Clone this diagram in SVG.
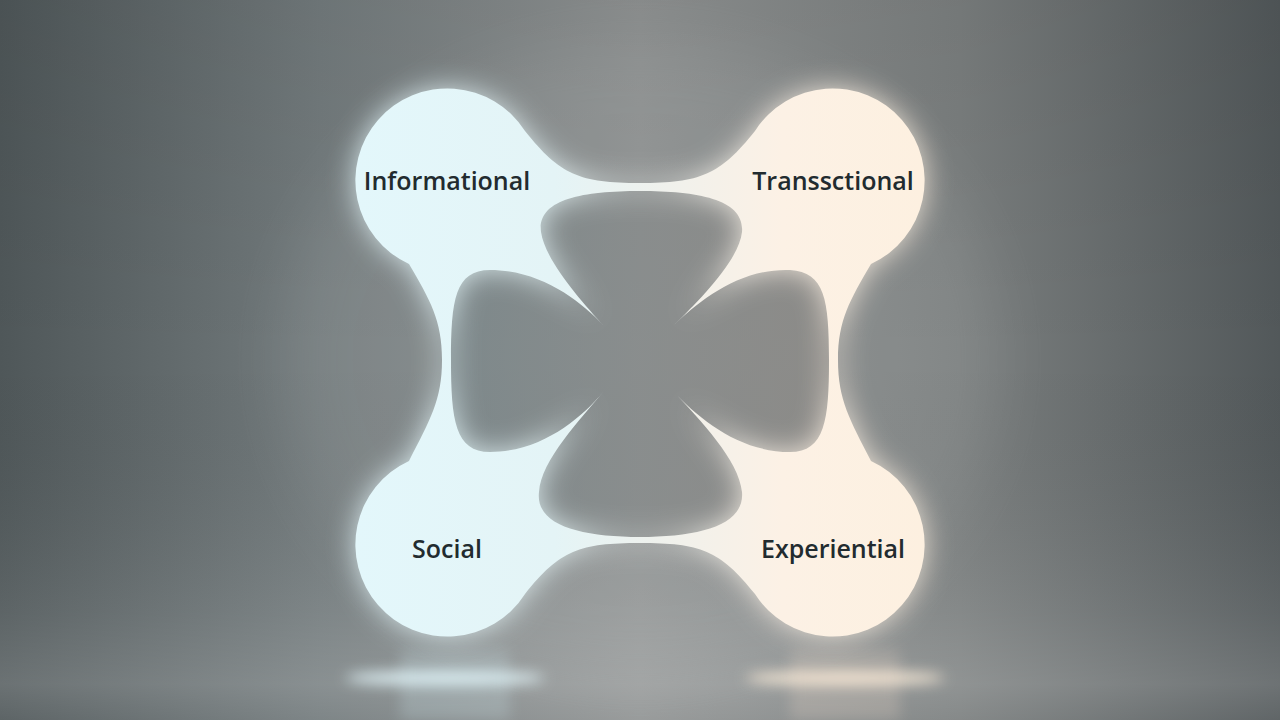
<svg xmlns="http://www.w3.org/2000/svg" width="1280" height="720" viewBox="0 0 1280 720">
  <defs>
    <linearGradient id="bgH" x1="0" y1="0" x2="1" y2="0">
      <stop offset="0" stop-color="#4f5759"/>
      <stop offset="0.25" stop-color="#737b7d"/>
      <stop offset="0.5" stop-color="#909393"/>
      <stop offset="0.75" stop-color="#7b7f7f"/>
      <stop offset="1" stop-color="#52585a"/>
    </linearGradient>
    <linearGradient id="bgV" x1="0" y1="0" x2="0" y2="1">
      <stop offset="0" stop-color="#000" stop-opacity="0.06"/>
      <stop offset="0.5" stop-color="#000" stop-opacity="0"/>
      <stop offset="0.85" stop-color="#fff" stop-opacity="0.08"/>
      <stop offset="0.95" stop-color="#fff" stop-opacity="0.16"/>
      <stop offset="1" stop-color="#fff" stop-opacity="0.08"/>
    </linearGradient>
    <linearGradient id="blob" x1="355" y1="0" x2="925" y2="0" gradientUnits="userSpaceOnUse">
      <stop offset="0" stop-color="#e3f7fb"/>
      <stop offset="0.35" stop-color="#e4f4f6"/>
      <stop offset="0.55" stop-color="#f0f1ec"/>
      <stop offset="0.75" stop-color="#fcf1e5"/>
      <stop offset="1" stop-color="#fdf0e0"/>
    </linearGradient>
    <linearGradient id="inner" x1="440" y1="0" x2="840" y2="0" gradientUnits="userSpaceOnUse">
      <stop offset="0" stop-color="#7a878a"/>
      <stop offset="0.5" stop-color="#868a8a"/>
      <stop offset="1" stop-color="#8d8a86"/>
    </linearGradient>
    <filter id="glow" x="-30%" y="-30%" width="160%" height="160%">
      <feGaussianBlur stdDeviation="14"/>
    </filter>
    <filter id="soft" x="-50%" y="-200%" width="200%" height="500%">
      <feGaussianBlur stdDeviation="7"/>
    </filter>
    <filter id="wide" x="-50%" y="-50%" width="200%" height="200%">
      <feGaussianBlur stdDeviation="30"/>
    </filter>
    <style>
      .lbl { font-family: "Open Sans", "Noto Sans", "Liberation Sans", sans-serif; font-size: 25px; font-weight: 600; fill: #222b2f; text-anchor: middle; }
    </style>
  </defs>

  <!-- background -->
  <rect x="0" y="0" width="1280" height="720" fill="url(#bgH)"/>
  <rect x="0" y="0" width="1280" height="720" fill="url(#bgV)"/>
  <ellipse cx="640" cy="360" rx="360" ry="320" fill="#b4b8b8" opacity="0.15" filter="url(#wide)"/>

  <!-- floor reflections -->
  <g id="floor">
    <ellipse cx="445" cy="678" rx="100" ry="7" fill="#e8fbff" opacity="0.9" filter="url(#soft)"/>
    <ellipse cx="845" cy="678" rx="100" ry="7" fill="#fff0dc" opacity="0.9" filter="url(#soft)"/>
    <rect x="400" y="650" width="110" height="70" fill="#cfe8ee" opacity="0.22" filter="url(#soft)"/>
    <rect x="790" y="650" width="110" height="70" fill="#f0dccb" opacity="0.22" filter="url(#soft)"/>
  </g>

  <!-- glowing shape -->
  <g id="shape">
    <path fill="url(#inner)" opacity="0.75"
      d="M 604,326 C 580,300 545,260 541,232 C 537,200 580,191 640,191 C 700,191 745,200 742,232 C 739,260 700,300 673,326 C 700,300 740,268 790,270 C 825,272 829,300 829,360 C 829,420 825,452 790,452 C 740,452 700,420 673,391 C 700,420 739,460 742,492 C 745,525 700,537 640,537 C 580,537 535,525 539,492 C 541,460 580,420 604,391 C 580,420 540,452 490,452 C 455,452 451,420 451,360 C 451,300 455,270 490,270 C 540,270 580,300 604,326 Z"/>
    <path fill-rule="evenodd" fill="url(#blob)" filter="url(#glow)" opacity="0.85"
      d="M 409,264 A 92 92 0 1 1 525,131 C 560,175 580,183 640,183 C 700,183 720,175 755,131 A 92 92 0 1 1 871,264 C 850,300 838,320 838,360 C 838,400 850,420 871,461 A 92 92 0 1 1 755,594 C 720,550 700,543 640,543 C 580,543 560,550 525,594 A 92 92 0 1 1 409,461 C 430,420 442,400 442,360 C 442,320 430,300 409,264 Z
         M 604,326 C 580,300 545,260 541,232 C 537,200 580,191 640,191 C 700,191 745,200 742,232 C 739,260 700,300 673,326 C 700,300 740,268 790,270 C 825,272 829,300 829,360 C 829,420 825,452 790,452 C 740,452 700,420 673,391 C 700,420 739,460 742,492 C 745,525 700,537 640,537 C 580,537 535,525 539,492 C 541,460 580,420 604,391 C 580,420 540,452 490,452 C 455,452 451,420 451,360 C 451,300 455,270 490,270 C 540,270 580,300 604,326 Z"/>
    <path fill-rule="evenodd" fill="url(#blob)"
      d="M 409,264 A 92 92 0 1 1 525,131 C 560,175 580,183 640,183 C 700,183 720,175 755,131 A 92 92 0 1 1 871,264 C 850,300 838,320 838,360 C 838,400 850,420 871,461 A 92 92 0 1 1 755,594 C 720,550 700,543 640,543 C 580,543 560,550 525,594 A 92 92 0 1 1 409,461 C 430,420 442,400 442,360 C 442,320 430,300 409,264 Z
         M 604,326 C 580,300 545,260 541,232 C 537,200 580,191 640,191 C 700,191 745,200 742,232 C 739,260 700,300 673,326 C 700,300 740,268 790,270 C 825,272 829,300 829,360 C 829,420 825,452 790,452 C 740,452 700,420 673,391 C 700,420 739,460 742,492 C 745,525 700,537 640,537 C 580,537 535,525 539,492 C 541,460 580,420 604,391 C 580,420 540,452 490,452 C 455,452 451,420 451,360 C 451,300 455,270 490,270 C 540,270 580,300 604,326 Z"/>
  </g>

  <!-- nodes -->
  <g id="node-informational">
    <text class="lbl" x="447" y="190">Informational</text>
  </g>
  <g id="node-transactional">
    <text class="lbl" x="833" y="190">Transsctional</text>
  </g>
  <g id="node-social">
    <text class="lbl" x="447" y="558">Social</text>
  </g>
  <g id="node-experiential">
    <text class="lbl" x="833" y="558">Experiential</text>
  </g>

  <g id="connectors"></g>
</svg>
